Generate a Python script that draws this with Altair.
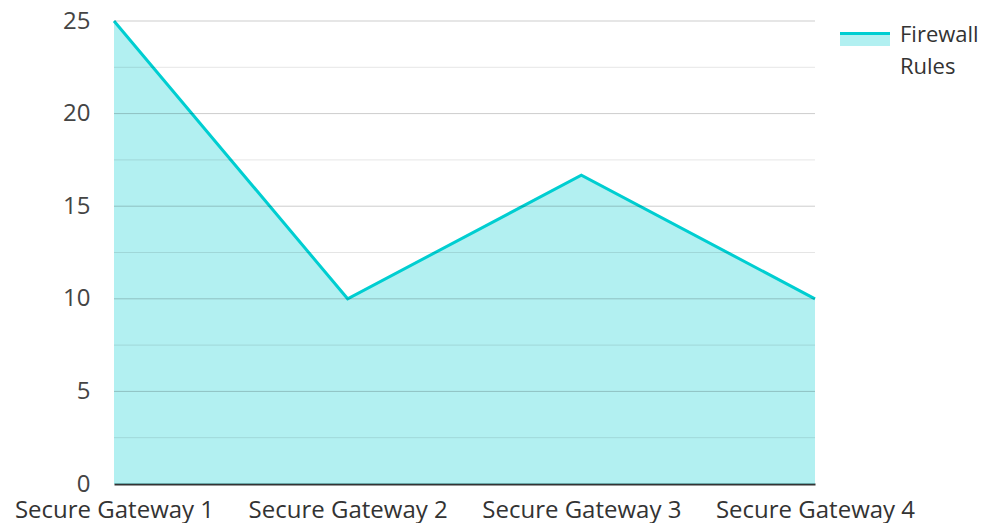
import altair as alt
import pandas as pd

gateways = ["Secure Gateway 1", "Secure Gateway 2", "Secure Gateway 3", "Secure Gateway 4"]
rules = [25, 10, 16.67, 10]
series_name = "Firewall Rules"
y_ticks = [0, 5, 10, 15, 20, 25]
major_grid = [5, 10, 15, 20, 25]
minor_grid = [2.5, 7.5, 12.5, 17.5, 22.5]

df = pd.DataFrame({"gateway": gateways, "rules": rules})
grid_major = pd.DataFrame({"v": major_grid})
grid_minor = pd.DataFrame({"v": minor_grid})

FONT = "Open Sans"
LINE = "#00CED1"

yscale = alt.Scale(domain=[0, 25], nice=False)
yaxis = alt.Axis(title=None, values=y_ticks, labelFontSize=24, labelColor="#444444",
                 labelFont=FONT, ticks=False, domain=False, grid=False, labelPadding=24)

x = alt.X("gateway:N", sort=gateways, scale=alt.Scale(type="point", padding=0),
          axis=alt.Axis(title=None, labelAngle=0, labelFontSize=24, labelColor="#333333",
                        labelFont=FONT, ticks=False, domainColor="#333333", domainWidth=2,
                        labelBaseline="alphabetic", labelPadding=33, grid=False,
                        labelOverlap=False, labelLimit=400))

area = alt.Chart(df).mark_area(
    color=LINE, fillOpacity=0.3,
    line={"color": LINE, "strokeWidth": 3}
).encode(x=x, y=alt.Y("rules:Q", scale=yscale, axis=yaxis))

gmaj = alt.Chart(grid_major).mark_rule(color="black", opacity=0.2, strokeWidth=1).encode(
    y=alt.Y("v:Q", scale=yscale, axis=yaxis))
gmin = alt.Chart(grid_minor).mark_rule(color="black", opacity=0.1, strokeWidth=1).encode(
    y=alt.Y("v:Q", scale=yscale, axis=yaxis))

leg = pd.DataFrame({"name": [series_name]})
leg_rect = alt.Chart(leg).mark_rect(color=LINE, opacity=0.3).encode(
    x=alt.value(726), x2=alt.value(776), y=alt.value(13), y2=alt.value(25))
leg_line = alt.Chart(leg).mark_rule(color=LINE, strokeWidth=3).encode(
    x=alt.value(726), x2=alt.value(776), y=alt.value(12.5))
leg_text = alt.Chart(leg).mark_text(
    align="left", baseline="alphabetic", fontSize=22, font=FONT, color="#333333",
    lineHeight=32
).encode(
    x=alt.value(786), y=alt.value(21),
    text=alt.Text("label:N")
).transform_calculate(label="split(datum.name, ' ')")

chart = alt.layer(area, gmin, gmaj, leg_rect, leg_line, leg_text).properties(
    width=701, height=463,
    autosize=alt.AutoSizeParams(type="none"),
    padding={"left": 106, "top": 13, "right": 166, "bottom": 39},
).configure(font=FONT).configure_view(stroke=None)

chart.save("out.html", embed_options={"renderer": "svg", "actions": False})
